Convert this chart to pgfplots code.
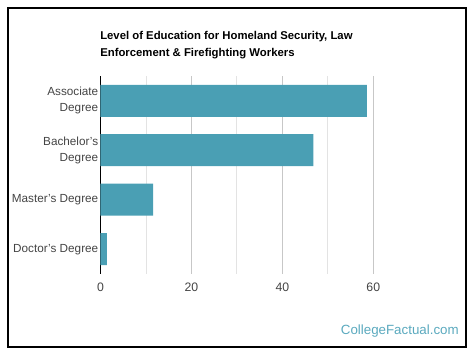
\documentclass[border=0pt]{standalone}
\usepackage{pgfplots}
\pgfplotsset{compat=1.18}
\usepackage{fontspec}
\setmainfont{Liberation Sans}
\definecolor{barc}{HTML}{4A9FB4}
\definecolor{wm}{HTML}{5AA9BE}
\definecolor{tickc}{HTML}{444444}
\begin{document}
\begin{tikzpicture}[x=0.75pt,y=0.75pt]
\path[use as bounding box] (0,0) rectangle (476,357);
\draw[line width=1.1pt] (8,10) rectangle (466,349);
\node[anchor=base west,font=\bfseries\fontsize{8.5}{11}\selectfont,inner sep=0pt] at (100,357-40) {Level of Education for Homeland Security, Law};
\node[anchor=base west,font=\bfseries\fontsize{8.5}{11}\selectfont,inner sep=0pt] at (100,357-57) {Enforcement \& Firefighting Workers};
\node[anchor=base east,font=\fontsize{10}{12}\selectfont,text=wm,inner sep=0pt] at (459,357-335) {CollegeFactual.com};
\begin{axis}[
  at={(75.375pt,62.25pt)}, anchor=south west,
  scale only axis, width=204.6pt, height=148.5pt,
  xbar, bar width=24pt,
  xmin=0, xmax=60, ymin=-0.5, ymax=3.5, y dir=reverse,
  ytick={0,1,2,3},
  yticklabels={{Associate\\Degree},{Bachelor's\\Degree},{Master's Degree},{Doctor's Degree}},
  yticklabel style={align=right,font=\fontsize{8.8}{12}\selectfont,text=tickc,inner xsep=1.5pt},
  xtick={0,20,40,60}, minor xtick={10,30,50},
  xticklabel style={font=\fontsize{9.2}{12}\selectfont,text=tickc,yshift=-3pt},
  /pgf/number format/assume math mode=true,
  xmajorgrids, xminorgrids,
  major grid style={draw=black!22,line width=0.6pt},
  minor grid style={draw=black!11,line width=0.6pt},
  major tick length=0pt, minor tick length=0pt,
  separate axis lines,
  x axis line style={draw=none},
  y axis line style={draw=black,line width=0.8pt},
  axis x line*=bottom, axis y line*=left,
  clip=false,
]
\addplot[fill=barc,draw=none] coordinates {(58.6,0) (46.8,1) (11.6,2) (1.4,3)};
\end{axis}
\end{tikzpicture}
\end{document}
